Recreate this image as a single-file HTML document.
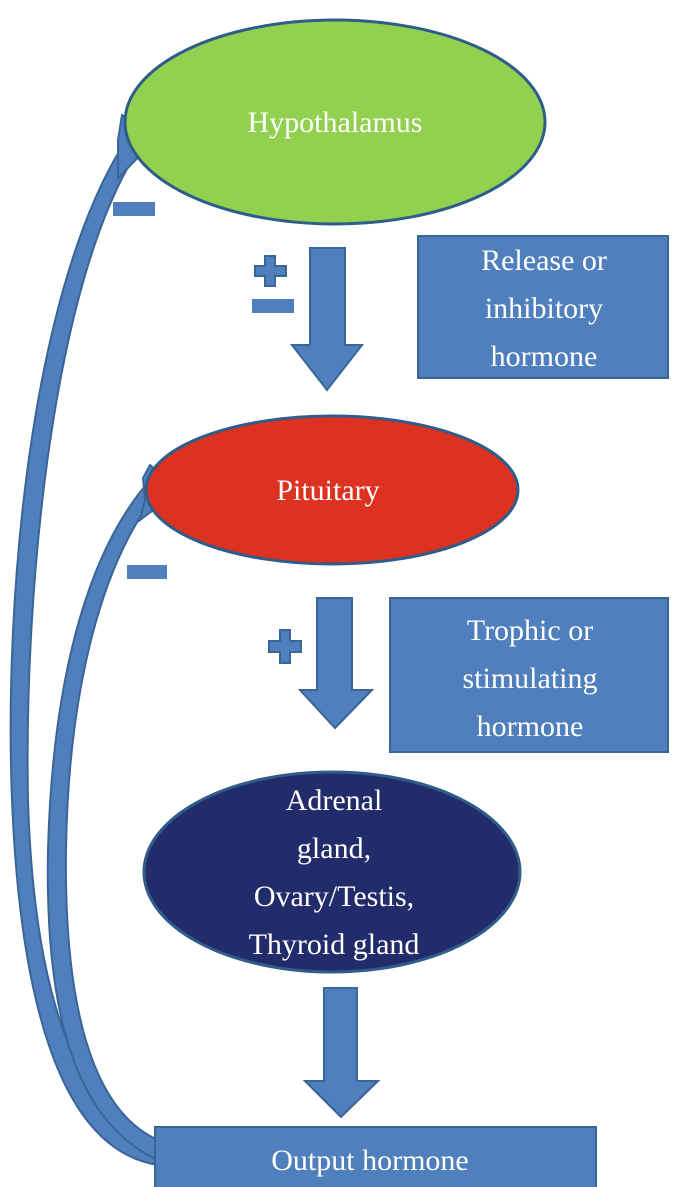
<!DOCTYPE html>
<html><head><style>
html,body{margin:0;padding:0;background:#fff;}
svg{display:block}
text{font-family:"Liberation Serif",serif;fill:#fff;}
</style></head><body>
<svg width="673" height="1187" viewBox="0 0 673 1187" xmlns="http://www.w3.org/2000/svg">
<!-- curved feedback arrows -->
<path d="M158,1165 C60,1150 20,1000 12,800 C4,600 30,300 120,150 L132,160 C50,300 24,600 28,800 C34,1000 80,1120 158,1140 Z" fill="#4f7fbc" stroke="#3a6596" stroke-width="2"/>
<polygon points="118,140 122,115 158,137 118,178 118,155" fill="#4f7fbc" stroke="#3a6596" stroke-width="2"/>
<path d="M158,1160 C70,1120 45,1000 48,850 C52,700 80,560 150,480 L158,492 C95,570 68,710 66,850 C64,1000 90,1110 158,1140 Z" fill="#4f7fbc" stroke="#3a6596" stroke-width="2"/>
<polygon points="143,478 150,465 180,490 140,520 145,500" fill="#4f7fbc" stroke="#3a6596" stroke-width="2"/>
<!-- ellipses -->
<ellipse cx="335" cy="122" rx="210" ry="102" fill="#92d050" stroke="#2f5d8a" stroke-width="3"/>
<text x="335" y="132" font-size="30" text-anchor="middle">Hypothalamus</text>
<ellipse cx="332" cy="490" rx="186" ry="74" fill="#dd3122" stroke="#2f5d8a" stroke-width="3"/>
<text x="328" y="500" font-size="30" text-anchor="middle">Pituitary</text>
<ellipse cx="332" cy="872" rx="188" ry="100" fill="#232c6b" stroke="#2f5d8a" stroke-width="3"/>
<g font-size="30" text-anchor="middle">
<text x="334" y="810">Adrenal</text>
<text x="334" y="858">gland,</text>
<text x="334" y="906">Ovary/Testis,</text>
<text x="334" y="954">Thyroid gland</text>
</g>
<!-- down arrows -->
<polygon points="310,248 345,248 345,345 362,345 327,390 292,345 310,345" fill="#4f7fbc" stroke="#3a6596" stroke-width="2"/>
<polygon points="317,598 352,598 352,690 372,690 335,728 300,690 317,690" fill="#4f7fbc" stroke="#3a6596" stroke-width="2"/>
<polygon points="324,988 357,988 357,1081 378,1081 341,1117 305,1081 324,1081" fill="#4f7fbc" stroke="#3a6596" stroke-width="2"/>
<!-- boxes -->
<rect x="418" y="236" width="250" height="142" fill="#4f7fbc" stroke="#3a6596" stroke-width="2"/>
<g font-size="30" text-anchor="middle"><text x="544" y="270">Release or</text><text x="544" y="318">inhibitory</text><text x="544" y="366">hormone</text></g>
<rect x="390" y="598" width="278" height="154" fill="#4f7fbc" stroke="#3a6596" stroke-width="2"/>
<g font-size="30" text-anchor="middle"><text x="530" y="640">Trophic or</text><text x="530" y="688">stimulating</text><text x="530" y="736">hormone</text></g>
<rect x="155" y="1127" width="441" height="62" fill="#4f7fbc" stroke="#3a6596" stroke-width="2"/>
<text x="370" y="1170" font-size="30" text-anchor="middle">Output hormone</text>
<!-- signs -->
<rect x="113" y="202" width="42" height="14" fill="#4f7fbc"/>
<rect x="252" y="299" width="42" height="14" fill="#4f7fbc"/>
<path d="M265,256 h10 v10 h11 v10 h-11 v10 h-10 v-10 h-10 v-10 h10 z" fill="#4f7fbc" stroke="#3a6596" stroke-width="2"/>
<rect x="127" y="565" width="40" height="14" fill="#4f7fbc"/>
<path d="M280,630 h10 v11 h11 v11 h-11 v11 h-10 v-11 h-11 v-11 h11 z" fill="#4f7fbc" stroke="#3a6596" stroke-width="2"/>
</svg>
</body></html>
